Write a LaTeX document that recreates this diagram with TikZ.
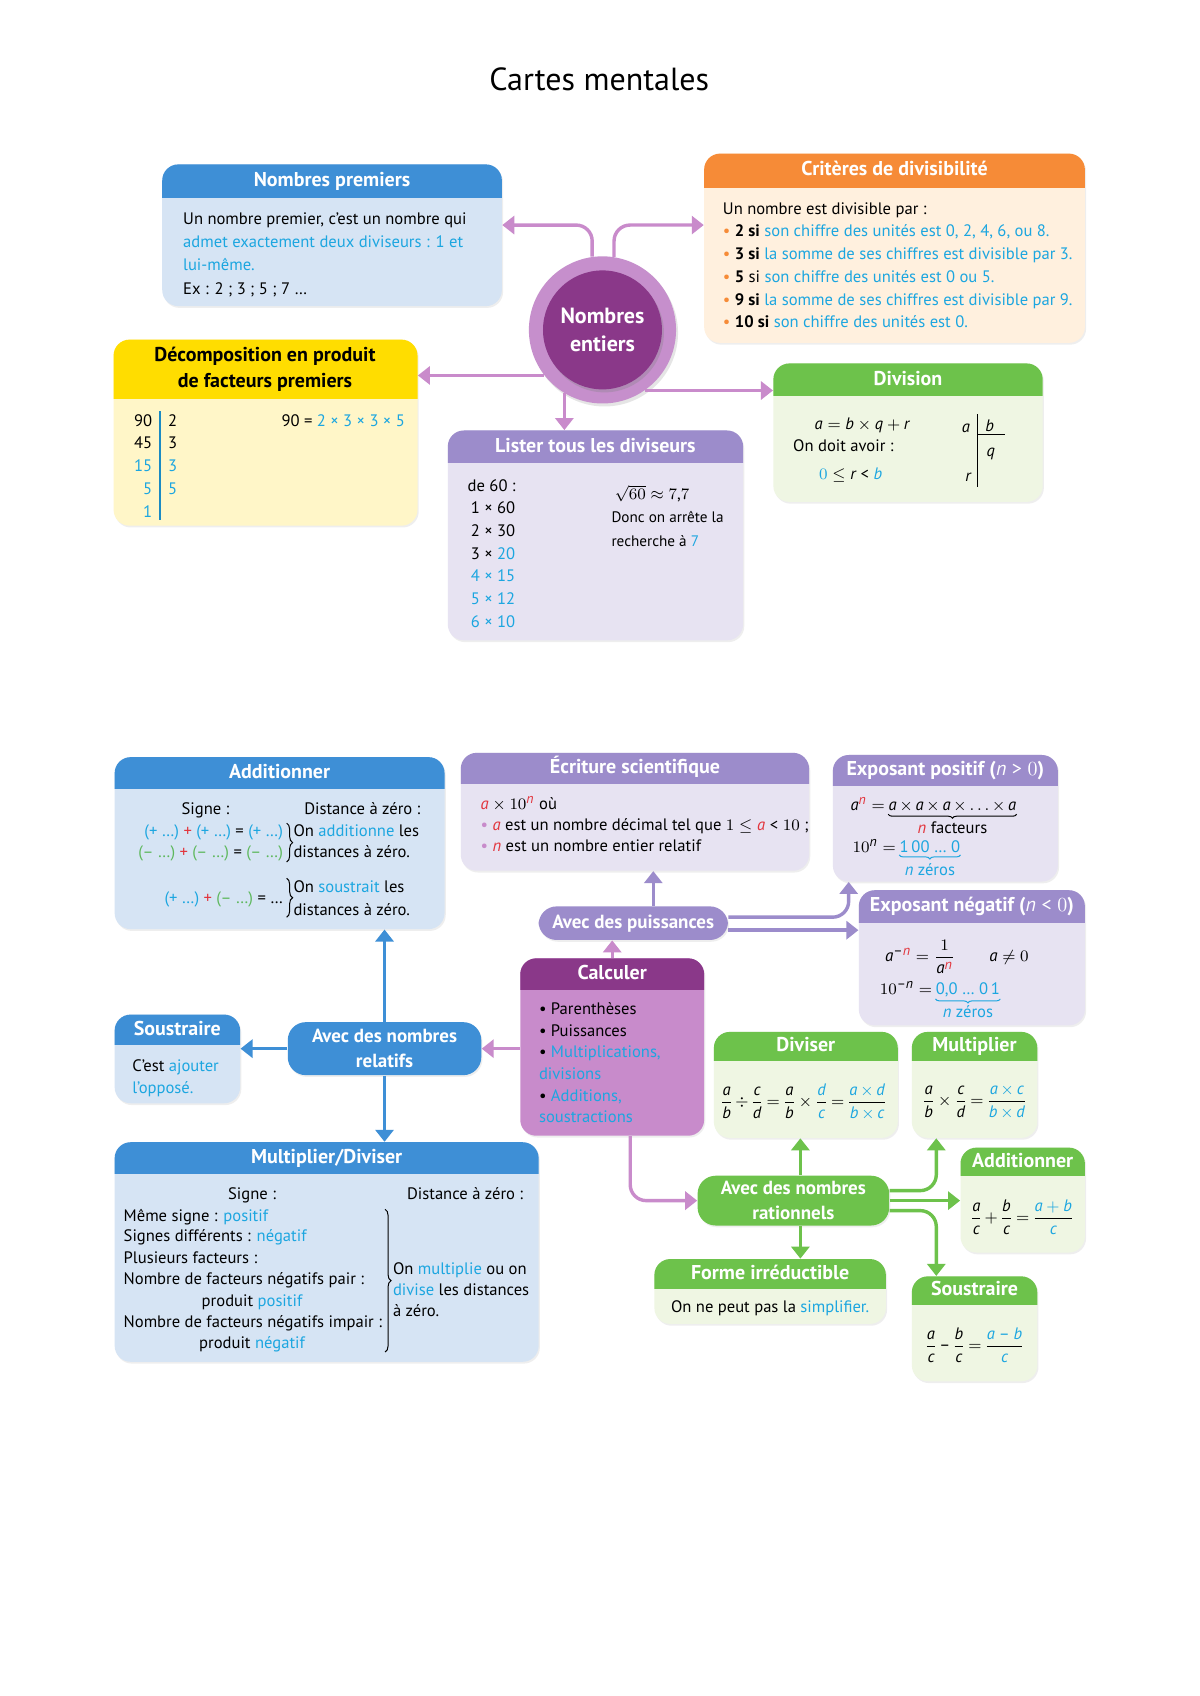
\documentclass[tikz,border=0pt]{standalone}
\usepackage{amsmath}
\usepackage{fontspec}
\setmainfont{PT Sans}
\usepackage[italic]{mathastext}
\usetikzlibrary{arrows.meta,fit,shadows,calc,decorations.pathreplacing}
\definecolor{hblue}{HTML}{3E8FD6}
\definecolor{bblue}{HTML}{D6E4F4}
\definecolor{horange}{HTML}{F68B37}
\definecolor{borange}{HTML}{FFF0DE}
\definecolor{hyellow}{HTML}{FFDD00}
\definecolor{byellow}{HTML}{FFF6C8}
\definecolor{hlav}{HTML}{9C8CCB}
\definecolor{blav}{HTML}{E7E3F2}
\definecolor{hgreen}{HTML}{6DC24B}
\definecolor{bgreen}{HTML}{EFF6E3}
\definecolor{dpurple}{HTML}{8A3889}
\definecolor{mpurple}{HTML}{C88BCB}
\definecolor{ring}{HTML}{C68FCC}
\definecolor{tb}{HTML}{1CA6E0}
\definecolor{tbd}{HTML}{1B8BC3}
\definecolor{tred}{HTML}{E2343C}
\definecolor{tgreen}{HTML}{5DB85C}
\definecolor{conpink}{HTML}{C98BCB}
\newcommand\bfnt{\fontsize{8.3}{10}\selectfont}
\newcommand\MapBox[9]{%
  \node[boxbg, fill=#8, fit={(#2,#3) (#4,#5)}] (#1) {};
  \begin{scope}
    \clip (#2,#3) rectangle (#4,#6);
    \fill[#7, rounded corners=8pt] (#2,#3) rectangle (#4,#5);
  \end{scope}
  \node[ht] (#1-t) at ({(#2+#4)/2},{(#3+#6)/2}) {#9};
}
\tikzset{
 boxbg/.style={inner sep=0pt, rounded corners=8pt, drop shadow={opacity=0.13, shadow xshift=0.6pt, shadow yshift=-0.9pt}},
 ht/.style={inner sep=0pt, text=white, font=\bfseries\fontsize{10}{12}\selectfont, text height=7.5pt, text depth=2pt},
 tl/.style={inner sep=0pt, anchor=base west, font=\bfnt},
 tc/.style={inner sep=0pt, anchor=base, font=\bfnt},
 tr/.style={inner sep=0pt, anchor=base east, font=\bfnt},
 fm/.style={inner sep=0pt, font=\fontsize{8.3}{10}\selectfont},
 pill/.style={rounded corners=9pt, inner sep=0pt, text=white, font=\bfseries\fontsize{9.5}{12.5}\selectfont, align=center, drop shadow={opacity=0.13, shadow xshift=0.6pt, shadow yshift=-0.9pt}},
 con/.style={line width=1.7pt, rounded corners=8pt, -{Triangle[width=9pt,length=6pt]}},
 brc/.style={decorate, decoration={brace, amplitude=3pt}, line width=0.5pt},
 brcs/.style={decorate, decoration={brace, amplitude=2pt}, line width=0.5pt},
}
\newcommand\tm{\mkern-1mu\times\mkern-1mu}
\begin{document}
\begin{tikzpicture}[x=0.541pt,y=-0.541pt]
\fill[white] (0,0) rectangle (1109,1568);
\useasboundingbox (0,0) rectangle (1109,1568);

\node[font=\fontsize{16}{19}\selectfont, inner sep=0pt] (title) at (554,73) {Cartes mentales};

%================ TOP ================
\MapBox{np}{150}{152}{464}{283}{183}{hblue}{bblue}{Nombres premiers}
\node[tl] (np-1) at (169,208) {Un nombre premier, c'est un nombre qui};
\node[tl] (np-2) at (169,229) {\color{tb}admet exactement deux diviseurs : 1 et};
\node[tl] (np-3) at (169,250) {\color{tb}lui-même.};
\node[tl] (np-4) at (169,272) {Ex : 2 ; 3 ; 5 ; 7 …};

\MapBox{cr}{651}{142}{1003}{317}{173}{horange}{borange}{Critères de divisibilité}
\node[tl] (cr-1) at (668,198) {Un nombre est divisible par :};
\node[tl] (cr-2) at (668,219) {{\color{horange}•} \textbf{2 si} {\color{tb}son chiffre des unités est 0, 2, 4, 6, ou 8.}};
\node[tl] (cr-3) at (668,240) {{\color{horange}•} \textbf{3 si} {\color{tb}la somme de ses chiffres est divisible par 3.}};
\node[tl] (cr-4) at (668,261) {{\color{horange}•} \textbf{5} si {\color{tb}son chiffre des unités est 0 ou 5.}};
\node[tl] (cr-5) at (668,282) {{\color{horange}•} \textbf{9 si} {\color{tb}la somme de ses chiffres est divisible par 9.}};
\node[tl] (cr-6) at (668,303) {{\color{horange}•} \textbf{10 si} {\color{tb}son chiffre des unités est 0.}};

\MapBox{dec}{105}{314}{386}{486}{368}{hyellow}{byellow}{}
\node[inner sep=0pt, align=center, font=\bfseries\fontsize{10}{13}\selectfont] (dec-tt) at (245,341) {Décomposition en produit\\de facteurs premiers};
\node[tr] (dec-a1) at (141,394) {90};
\node[tr] (dec-a2) at (141,415) {45};
\node[tr] (dec-a3) at (141,436) {\color{tb}15};
\node[tr] (dec-a4) at (141,457) {\color{tb}5};
\node[tr] (dec-a5) at (141,478) {\color{tb}1};
\node[tl] (dec-b1) at (155,394) {2};
\node[tl] (dec-b2) at (155,415) {3};
\node[tl] (dec-b3) at (155,436) {\color{tb}3};
\node[tl] (dec-b4) at (155,457) {\color{tb}5};
\draw[tbd, line width=1.2pt] (148,380) -- (148,481);
\node[tl] (dec-r) at (260,394) {90 = {\color{tb}2 × 3 × 3 × 5}};

\MapBox{lis}{414}{398}{687}{592}{428}{hlav}{blav}{Lister tous les diviseurs}
\node[tl] (lis-0) at (432,454) {de 60 :};
\node[tl] (lis-1) at (435,475) {1 × 60};
\node[tl] (lis-2) at (435,496) {2 × 30};
\node[tl] (lis-3) at (435,517) {3 × {\color{tb}20}};
\node[tl] (lis-4) at (435,538) {\color{tb}4 × 15};
\node[tl] (lis-5) at (435,559) {\color{tb}5 × 12};
\node[tl] (lis-6) at (435,580) {\color{tb}6 × 10};
\node[tl] (lis-r1) at (568,462) {$\sqrt{60}\approx 7{,}7$};
\node[tl, font=\fontsize{7.6}{9}\selectfont] (lis-r2) at (565,483) {Donc on arrête la};
\node[tl, font=\fontsize{7.6}{9}\selectfont] (lis-r3) at (565,505) {recherche à {\color{tb}7}};

\MapBox{dv}{715}{336}{964}{464}{366}{hgreen}{bgreen}{Division}
\node[tc] (dv-1) at (797,397) {$a=b\times q+r$};
\node[tl] (dv-2) at (733,417) {On doit avoir :};
\node[tl] (dv-3) at (757,443) {${\color{tb}0}\leq r<{\color{tb}b}$};
\node[tc] (dv-a) at (893,400) {$a$};
\node[tc] (dv-b) at (915,399) {$b$};
\node[tc] (dv-q) at (916,422) {$q$};
\node[tc] (dv-r) at (895,445) {$r$};
\draw[line width=0.6pt] (904,383) -- (904,450) (904,402) -- (929,402);

% central circle
\node[circle, fill=ring, minimum size=73.6pt, inner sep=0pt, drop shadow={opacity=0.2, shadow xshift=1pt, shadow yshift=-1.5pt}] (circ) at (557,305) {};
\node[circle, fill=dpurple, minimum size=59.5pt, inner sep=0pt, text=white, font=\bfseries\fontsize{11}{14}\selectfont, align=center, drop shadow={opacity=0.3, shadow xshift=1pt, shadow yshift=-1.5pt}] (circin) at (557,305) {Nombres\\entiers};

\draw[con, conpink] (circ.98) |- ([yshift=5.1pt]np.east);
\draw[con, conpink] (circ.81) |- ([yshift=11.6pt]cr.west);
\draw[con, conpink] (circ.218) -- (circ.218 -| dec.east);
\draw[con, conpink] (circ.305) -- (circ.305 -| dv.west);
\draw[con, conpink] (circ.239) -- (circ.239 |- lis.north);

%================ BOTTOM ================
\MapBox{addb}{106}{700}{411}{859}{729}{hblue}{bblue}{Additionner}
\node[tc] (addb-s) at (190,753) {Signe :};
\node[tc] (addb-d) at (335,753) {Distance à zéro :};
\node[tr] (addb-1) at (262,773) {{\color{tb}(+ …)} {\color{tred}+} {\color{tb}(+ …)} = {\color{tb}(+ …)}};
\node[tr] (addb-2) at (262,793) {{\color{tgreen}(– …)} {\color{tred}+} {\color{tgreen}(– …)} = {\color{tgreen}(– …)}};
\draw[brc] (265,761) -- (265,797);
\node[tl] (addb-3) at (271,773) {On {\color{tb}additionne} les};
\node[tl] (addb-4) at (271,793) {distances à zéro.};
\node[tr] (addb-5) at (262,835) {{\color{tb}(+ …)} {\color{tred}+} {\color{tgreen}(– …)} = …};
\draw[brc] (265,812) -- (265,848);
\node[tl] (addb-6) at (271,825) {On {\color{tb}soustrait} les};
\node[tl] (addb-7) at (271,846) {distances à zéro.};

\MapBox{ecr}{426}{696}{748}{805}{724}{hlav}{blav}{Écriture scientifique}
\node[tl] (ecr-1) at (444,748) {${\color{tred}a}\times 10^{\color{tred}n}$ où};
\node[tl] (ecr-2) at (444,768) {{\color{mpurple}•} ${\color{tred}a}$ est un nombre décimal tel que $1\leq{\color{tred}a}<10$ ;};
\node[tl] (ecr-3) at (444,787) {{\color{mpurple}•} ${\color{tred}n}$ est un nombre entier relatif};

\MapBox{expp}{770}{698}{978}{815}{726}{hlav}{blav}{Exposant positif ($n>0$)}
\node[tl] (expp-1a) at (786,749) {$a^{\color{tred}n}=$};
\node[tl, xshift=1.5pt] (expp-1b) at (expp-1a.base east) {$a\tm a\tm a\tm\ldots\tm a$};
\draw[brcs] ([yshift=-1pt]expp-1b.south east) -- ([yshift=-1pt]expp-1b.south west);
\node[tc] (expp-2) at (expp-1b.south |- 0,771) {${\color{tred}n}$ facteurs};
\node[tl] (expp-3a) at (788,788) {$10^{n}=$};
\node[tl, xshift=1.5pt] (expp-3b) at (expp-3a.base east) {\color{tb}1\,00 … 0};
\draw[brcs, tb] ([yshift=-1pt]expp-3b.south east) -- ([yshift=-1pt]expp-3b.south west);
\node[tc] (expp-4) at (expp-3b.south |- 0,809) {\color{tb}$n$ zéros};

\MapBox{expn}{794}{823}{1003}{948}{853}{hlav}{blav}{Exposant négatif ($n<0$)}
\node[tl, font=\fontsize{8.5}{10}\selectfont] (expn-1) at (818,889) {$a^{-{\color{tred}n}}=\dfrac{1}{a^{\color{tred}n}}\qquad a\neq 0$};
\node[tl] (expn-2a) at (813,919) {$10^{-n}=$};
\node[tl, xshift=1.5pt] (expn-2b) at (expn-2a.base east) {\color{tb}0,0 … 0\,1};
\draw[brcs, tb] ([yshift=-1pt]expn-2b.south east) -- ([yshift=-1pt]expn-2b.south west);
\node[tc] (expn-3) at (expn-2b.south |- 0,941) {\color{tb}$n$ zéros};

\node[pill, fill=hlav, minimum width=94.7pt, minimum height=16.8pt] (avp) at (585.5,853.5) {Avec des puissances};

\MapBox{calc}{481}{886}{651}{1050}{915}{dpurple}{mpurple}{Calculer}
\node[tl] (calc-1) at (498,938) {• Parenthèses};
\node[tl] (calc-2) at (498,958) {• Puissances};
\node[tl] (calc-3) at (498,978) {• {\color{tb}Multiplications,}};
\node[tl] (calc-4) at (498,998) {\color{tb}divisions};
\node[tl] (calc-5) at (498,1018) {• {\color{tb}Additions,}};
\node[tl] (calc-6) at (498,1038) {\color{tb}soustractions};

\node[pill, fill=hblue, minimum width=96.8pt, minimum height=26.5pt] (rel) at (355.5,969.5) {Avec des nombres\\relatifs};

\MapBox{sousb}{106}{938}{222}{1020}{966}{hblue}{bblue}{Soustraire}
\node[tl] (sousb-1) at (122,991) {C'est {\color{tb}ajouter}};
\node[tl] (sousb-2) at (122,1011) {\color{tb}l'opposé.};

\MapBox{md}{106}{1056}{498}{1259}{1085}{hblue}{bblue}{Multiplier/Diviser}
\node[tc] (md-s) at (233,1109) {Signe :};
\node[tc] (md-d) at (430,1109) {Distance à zéro :};
\node[tl] (md-1) at (114,1129) {Même signe : {\color{tb}positif}};
\node[tl] (md-2) at (114,1148) {Signes différents : {\color{tb}négatif}};
\node[tl] (md-3) at (114,1168) {Plusieurs facteurs :};
\node[tl] (md-4) at (114,1188) {Nombre de facteurs négatifs pair :};
\node[tc] (md-5) at (233,1208) {produit {\color{tb}positif}};
\node[tl] (md-6) at (114,1227) {Nombre de facteurs négatifs impair :};
\node[tc] (md-7) at (233,1247) {produit {\color{tb}négatif}};
\draw[brc] (356,1118) -- (356,1250);
\node[tl] (md-8) at (363,1178) {On {\color{tb}multiplie} ou on};
\node[tl] (md-9) at (363,1198) {{\color{tb}divise} les distances};
\node[tl] (md-10) at (363,1217) {à zéro.};

\MapBox{divg}{660}{954}{830}{1052}{980}{hgreen}{bgreen}{Diviser}
\node[fm] (divg-f) at (743,1019) {$\dfrac{a}{b}\mkern-2mu\div\mkern-2mu\dfrac{c}{d}\mkern-2mu=\mkern-2mu\dfrac{a}{b}\tm\dfrac{\color{tb}d}{\color{tb}c}\mkern-2mu=\mkern-2mu\dfrac{\color{tb}a\tm d}{\color{tb}b\tm c}$};

\MapBox{mulg}{843}{954}{959}{1052}{980}{hgreen}{bgreen}{Multiplier}
\node[fm] (mulg-f) at (901,1019) {$\dfrac{a}{b}\tm\dfrac{c}{d}\mkern-2mu=\mkern-2mu\dfrac{\color{tb}a\tm c}{\color{tb}b\tm d}$};

\MapBox{addg}{888}{1061}{1003}{1158}{1087}{hgreen}{bgreen}{Additionner}
\node[fm] (addg-f) at (945,1125) {$\dfrac{a}{c}\mkern-2mu+\mkern-2mu\dfrac{b}{c}\mkern-2mu=\mkern-2mu\dfrac{\color{tb}a+b}{\color{tb}c}$};

\MapBox{sousg}{843}{1180}{959}{1277}{1206}{hgreen}{bgreen}{Soustraire}
\node[fm] (sousg-f) at (901,1244) {$\dfrac{a}{c}\mkern-2mu-\mkern-2mu\dfrac{b}{c}\mkern-2mu=\mkern-2mu\dfrac{\color{tb}a-b}{\color{tb}c}$};

\MapBox{fi}{605}{1164}{819}{1224}{1191}{hgreen}{bgreen}{Forme irréductible}
\node[tc] (fi-1) at (712,1213) {On ne peut pas la {\color{tb}simplifier.}};

\node[pill, fill=hgreen, minimum width=95.8pt, minimum height=24.9pt] (rat) at (733.5,1110) {Avec des nombres\\rationnels};

% connectors bottom
\draw[con, hlav] ([xshift=10pt]avp.north) -- ([xshift=10pt]avp.north |- ecr.south);
\draw[con, hlav] ([yshift=3pt]avp.east) -| ($(expp.south west)+(15,0)$);
\draw[con, hlav] ([yshift=-3.5pt]avp.east) -- ([yshift=-3.5pt]avp.east -| expn.west);
\draw[con, conpink] (calc.north) -- (calc.north |- avp.south);
\draw[con, conpink] (calc.west |- rel.east) -- (rel.east);
\draw[con, conpink] ([xshift=9pt]calc.south) |- (rat.west);
\draw[con, hblue] (rel.north) -- (rel.north |- addb.south);
\draw[con, hblue] (rel.south) -- (rel.south |- md.north);
\draw[con, hblue] (rel.west) -- (rel.west -| sousb.east);
\draw[con, hgreen] ([xshift=3.5pt]rat.north) -- ([xshift=3.5pt]rat.north |- divg.south);
\draw[con, hgreen] ([xshift=3.5pt]rat.south) -- ([xshift=3.5pt]rat.south |- fi.north);
\draw[con, hgreen] ([yshift=5pt]rat.east) -| ($(mulg.south west)+(23,0)$);
\draw[con, hgreen] (rat.east) -- (rat.east -| addg.west);
\draw[con, hgreen] ([yshift=-5pt]rat.east) -| ($(sousg.north west)+(23,0)$);
\end{tikzpicture}
\end{document}
